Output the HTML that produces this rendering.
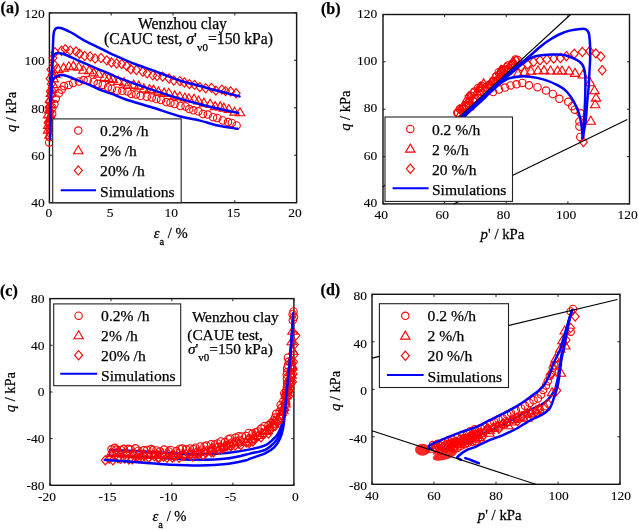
<!DOCTYPE html><html><head><meta charset="utf-8"><style>html,body{margin:0;padding:0;background:#fff;}svg{display:block;} text{stroke:#000;stroke-width:0.25px;} text.tl{stroke-width:0.1px;}</style></head><body><svg width="638" height="530" viewBox="0 0 638 530">
<rect width="638" height="530" fill="#fff"/>
<g font-family="Liberation Serif, Times New Roman, serif" fill="#000"><rect x="49.4" y="12.9" width="247.2" height="189.8" fill="none" stroke="#111" stroke-width="1.4"/><path d="M49.4 202.7v-2.6M49.4 12.9v2.6M111.2 202.7v-2.6M111.2 12.9v2.6M173 202.7v-2.6M173 12.9v2.6M234.8 202.7v-2.6M234.8 12.9v2.6M296.6 202.7v-2.6M296.6 12.9v2.6M49.4 202.7h2.6M296.6 202.7h-2.6M49.4 155.2h2.6M296.6 155.2h-2.6M49.4 107.8h2.6M296.6 107.8h-2.6M49.4 60.3h2.6M296.6 60.3h-2.6M49.4 12.9h2.6M296.6 12.9h-2.6" stroke="#222" stroke-width="1" fill="none"/><rect x="383" y="14.5" width="246.5" height="189.4" fill="none" stroke="#111" stroke-width="1.4"/><path d="M383 203.9v-2.6M383 14.5v2.6M444.6 203.9v-2.6M444.6 14.5v2.6M506.2 203.9v-2.6M506.2 14.5v2.6M567.9 203.9v-2.6M567.9 14.5v2.6M629.5 203.9v-2.6M629.5 14.5v2.6M383 203.9h2.6M629.5 203.9h-2.6M383 156.6h2.6M629.5 156.6h-2.6M383 109.2h2.6M629.5 109.2h-2.6M383 61.8h2.6M629.5 61.8h-2.6M383 14.5h2.6M629.5 14.5h-2.6" stroke="#222" stroke-width="1" fill="none"/><rect x="50" y="298.6" width="243.9" height="186.7" fill="none" stroke="#111" stroke-width="1.4"/><path d="M50 485.3v-2.6M50 298.6v2.6M111 485.3v-2.6M111 298.6v2.6M171.9 485.3v-2.6M171.9 298.6v2.6M232.9 485.3v-2.6M232.9 298.6v2.6M293.9 485.3v-2.6M293.9 298.6v2.6M50 485.3h2.6M293.9 485.3h-2.6M50 438.6h2.6M293.9 438.6h-2.6M50 392h2.6M293.9 392h-2.6M50 345.3h2.6M293.9 345.3h-2.6M50 298.6h2.6M293.9 298.6h-2.6" stroke="#222" stroke-width="1" fill="none"/><rect x="372" y="294.3" width="248" height="190" fill="none" stroke="#111" stroke-width="1.4"/><path d="M372 484.3v-2.6M372 294.3v2.6M434 484.3v-2.6M434 294.3v2.6M496 484.3v-2.6M496 294.3v2.6M558 484.3v-2.6M558 294.3v2.6M620 484.3v-2.6M620 294.3v2.6M372 484.3h2.6M620 484.3h-2.6M372 436.8h2.6M620 436.8h-2.6M372 389.3h2.6M620 389.3h-2.6M372 341.8h2.6M620 341.8h-2.6M372 294.3h2.6M620 294.3h-2.6" stroke="#222" stroke-width="1" fill="none"/><text x="48.8" y="217.3" font-size="13.5" text-anchor="middle" class="tl">0</text><text x="110" y="217.3" font-size="13.5" text-anchor="middle" class="tl">5</text><text x="171.2" y="217.3" font-size="13.5" text-anchor="middle" class="tl">10</text><text x="233.4" y="217.3" font-size="13.5" text-anchor="middle" class="tl">15</text><text x="295.1" y="217.3" font-size="13.5" text-anchor="middle" class="tl">20</text><text x="44.8" y="207.4" font-size="13.5" text-anchor="end" class="tl">40</text><text x="44.8" y="159.9" font-size="13.5" text-anchor="end" class="tl">60</text><text x="44.8" y="112.5" font-size="13.5" text-anchor="end" class="tl">80</text><text x="44.8" y="65" font-size="13.5" text-anchor="end" class="tl">100</text><text x="44.8" y="17.6" font-size="13.5" text-anchor="end" class="tl">120</text><text x="381.3" y="219.2" font-size="13.5" text-anchor="middle" class="tl">40</text><text x="442.3" y="219.2" font-size="13.5" text-anchor="middle" class="tl">60</text><text x="503.6" y="219.2" font-size="13.5" text-anchor="middle" class="tl">80</text><text x="566" y="219.2" font-size="13.5" text-anchor="middle" class="tl">100</text><text x="627.5" y="219.2" font-size="13.5" text-anchor="middle" class="tl">120</text><text x="377.3" y="206.9" font-size="13.5" text-anchor="end" class="tl">40</text><text x="377.3" y="159.6" font-size="13.5" text-anchor="end" class="tl">60</text><text x="377.3" y="112.2" font-size="13.5" text-anchor="end" class="tl">80</text><text x="377.3" y="64.8" font-size="13.5" text-anchor="end" class="tl">100</text><text x="377.3" y="17.5" font-size="13.5" text-anchor="end" class="tl">120</text><text x="47" y="500.9" font-size="13.5" text-anchor="middle" class="tl">-20</text><text x="107.5" y="500.9" font-size="13.5" text-anchor="middle" class="tl">-15</text><text x="168.4" y="500.9" font-size="13.5" text-anchor="middle" class="tl">-10</text><text x="230.7" y="500.9" font-size="13.5" text-anchor="middle" class="tl">-5</text><text x="295.3" y="500.9" font-size="13.5" text-anchor="middle" class="tl">0</text><text x="44.4" y="489.7" font-size="13.5" text-anchor="end" class="tl">-80</text><text x="44.4" y="443" font-size="13.5" text-anchor="end" class="tl">-40</text><text x="44.4" y="396.4" font-size="13.5" text-anchor="end" class="tl">0</text><text x="44.4" y="349.7" font-size="13.5" text-anchor="end" class="tl">40</text><text x="44.4" y="303" font-size="13.5" text-anchor="end" class="tl">80</text><text x="372" y="500.1" font-size="13.5" text-anchor="middle" class="tl">40</text><text x="434" y="500.1" font-size="13.5" text-anchor="middle" class="tl">60</text><text x="496" y="500.1" font-size="13.5" text-anchor="middle" class="tl">80</text><text x="558.6" y="500.1" font-size="13.5" text-anchor="middle" class="tl">100</text><text x="620.8" y="500.1" font-size="13.5" text-anchor="middle" class="tl">120</text><text x="367" y="490.1" font-size="13.5" text-anchor="end" class="tl">-80</text><text x="367" y="442.6" font-size="13.5" text-anchor="end" class="tl">-40</text><text x="367" y="395.1" font-size="13.5" text-anchor="end" class="tl">0</text><text x="367" y="347.6" font-size="13.5" text-anchor="end" class="tl">40</text><text x="367" y="300.1" font-size="13.5" text-anchor="end" class="tl">80</text><text transform="translate(15.6 132) rotate(-90) scale(0.94 1)" font-size="15.4"><tspan font-style="italic">q</tspan> / kPa</text><text transform="translate(349.6 130.8) rotate(-90) scale(0.94 1)" font-size="15.4"><tspan font-style="italic">q</tspan> / kPa</text><text transform="translate(14.7 412.2) rotate(-90) scale(0.94 1)" font-size="15.4"><tspan font-style="italic">q</tspan> / kPa</text><text transform="translate(340.3 411.1) rotate(-90) scale(0.94 1)" font-size="15.4"><tspan font-style="italic">q</tspan> / kPa</text><text transform="translate(153.8 238.2) scale(0.95 1)" font-size="15.4"><tspan font-style="italic">&#949;</tspan><tspan font-size="11" dy="7.2">a</tspan><tspan dy="-7.2"> / %</tspan></text><text transform="translate(152.6 520.7) scale(0.95 1)" font-size="15.4"><tspan font-style="italic">&#949;</tspan><tspan font-size="11" dy="7.2">a</tspan><tspan dy="-7.2"> / %</tspan></text><text transform="translate(480.6 239.2) scale(0.962 1)" font-size="15.4"><tspan font-style="italic">p</tspan>' / kPa</text><text transform="translate(477.8 520.1) scale(0.962 1)" font-size="15.4"><tspan font-style="italic">p</tspan>' / kPa</text><text x="0.6" y="13.4" font-size="16.0" font-weight="bold">(a)</text><text x="321" y="13.8" font-size="16.0" font-weight="bold">(b)</text><text x="0" y="295.7" font-size="16.0" font-weight="bold">(c)</text><text x="320.6" y="294.7" font-size="16.0" font-weight="bold">(d)</text></g>
<defs><clipPath id="ca"><rect x="49.4" y="12.9" width="247.2" height="189.8"/></clipPath><clipPath id="cb"><rect x="383" y="14.5" width="246.5" height="189.4"/></clipPath><clipPath id="cc"><rect x="50" y="298.6" width="243.9" height="186.7"/></clipPath><clipPath id="cd"><rect x="372" y="294.3" width="248" height="190"/></clipPath></defs><g fill="none" stroke="#ff0000" stroke-width="1.1"><circle cx="49.2" cy="142.4" r="3.7"/><circle cx="49.8" cy="137.2" r="3.7"/><circle cx="49.9" cy="132.8" r="3.7"/><circle cx="49.5" cy="128" r="3.7"/><circle cx="50" cy="122.9" r="3.7"/><circle cx="50.8" cy="117.4" r="3.7"/><circle cx="52.2" cy="113.8" r="3.7"/><circle cx="52.4" cy="107.7" r="3.7"/><circle cx="54.4" cy="104.1" r="3.7"/><circle cx="55.8" cy="98.4" r="3.7"/><circle cx="58.8" cy="93.3" r="3.7"/><circle cx="61.6" cy="89.8" r="3.7"/><circle cx="64" cy="86.1" r="3.7"/><circle cx="68.6" cy="84.9" r="3.7"/><circle cx="73.2" cy="83" r="3.7"/><circle cx="78.9" cy="81.5" r="3.7"/><circle cx="83.6" cy="80.1" r="3.7"/><circle cx="87.7" cy="80.2" r="3.7"/><circle cx="93.7" cy="81.9" r="3.7"/><circle cx="97.7" cy="83.8" r="3.7"/><circle cx="102.7" cy="84.9" r="3.7"/><circle cx="108" cy="87.3" r="3.7"/><circle cx="111.8" cy="88.7" r="3.7"/><circle cx="117.1" cy="90.7" r="3.7"/><circle cx="122.3" cy="90.8" r="3.7"/><circle cx="127.6" cy="91.6" r="3.7"/><circle cx="131.5" cy="93.9" r="3.7"/><circle cx="135.9" cy="94.4" r="3.7"/><circle cx="140.6" cy="95.8" r="3.7"/><circle cx="146.8" cy="96.7" r="3.7"/><circle cx="151.8" cy="97.4" r="3.7"/><circle cx="156.4" cy="99.1" r="3.7"/><circle cx="161" cy="100" r="3.7"/><circle cx="166.3" cy="102.1" r="3.7"/><circle cx="170.5" cy="102.8" r="3.7"/><circle cx="174.6" cy="104.1" r="3.7"/><circle cx="180.5" cy="106" r="3.7"/><circle cx="185.5" cy="106.4" r="3.7"/><circle cx="189.3" cy="109.1" r="3.7"/><circle cx="193.4" cy="110.3" r="3.7"/><circle cx="198.4" cy="111.3" r="3.7"/><circle cx="202.9" cy="114" r="3.7"/><circle cx="207.8" cy="114.6" r="3.7"/><circle cx="213.1" cy="117.2" r="3.7"/><circle cx="217.2" cy="118" r="3.7"/><circle cx="222.8" cy="120.5" r="3.7"/><circle cx="228" cy="122.1" r="3.7"/><circle cx="231.8" cy="122.9" r="3.7"/><circle cx="236.6" cy="125.5" r="3.7"/><path d="M49.4 130.2L54.1 138.2L44.7 138.2Z"/><path d="M48 125.1L52.7 133.1L43.3 133.1Z"/><path d="M48.1 120.4L52.8 128.4L43.4 128.4Z"/><path d="M49 114.8L53.7 122.8L44.3 122.8Z"/><path d="M48.1 109.9L52.8 117.9L43.4 117.9Z"/><path d="M49 104.9L53.7 112.9L44.3 112.9Z"/><path d="M50.4 100L55.1 108L45.7 108Z"/><path d="M50 94.7L54.7 102.6L45.3 102.6Z"/><path d="M50.9 88.5L55.6 96.5L46.2 96.5Z"/><path d="M52.2 84.7L56.9 92.6L47.5 92.6Z"/><path d="M53.1 79.6L57.8 87.6L48.4 87.6Z"/><path d="M53.7 73.9L58.4 81.9L49 81.9Z"/><path d="M55.3 69.5L60 77.5L50.6 77.5Z"/><path d="M58.4 64.6L63.1 72.6L53.7 72.6Z"/><path d="M63.6 63.2L68.3 71.1L58.9 71.1Z"/><path d="M68.9 61.8L73.6 69.8L64.2 69.8Z"/><path d="M73.4 61.2L78.1 69.2L68.7 69.2Z"/><path d="M78.7 62.3L83.4 70.3L74 70.3Z"/><path d="M83.4 65.2L88.1 73.2L78.7 73.2Z"/><path d="M89.3 65.7L94 73.7L84.6 73.7Z"/><path d="M93.5 67.9L98.2 75.9L88.8 75.9Z"/><path d="M98.6 69.3L103.3 77.3L93.9 77.3Z"/><path d="M104.4 72.6L109.1 80.6L99.7 80.6Z"/><path d="M108.6 73.4L113.3 81.4L103.9 81.4Z"/><path d="M112.8 74.4L117.5 82.4L108.1 82.4Z"/><path d="M118.2 76.4L122.9 84.4L113.5 84.4Z"/><path d="M124.1 77.7L128.8 85.7L119.4 85.7Z"/><path d="M127.7 80.4L132.4 88.4L123 88.4Z"/><path d="M133.6 80.1L138.3 88.1L128.9 88.1Z"/><path d="M138.7 81.1L143.4 89.1L134 89.1Z"/><path d="M143.8 83.9L148.5 91.9L139.1 91.9Z"/><path d="M149.5 84.5L154.2 92.5L144.8 92.5Z"/><path d="M153.5 85.1L158.2 93L148.8 93Z"/><path d="M158.4 86.9L163.1 94.9L153.7 94.9Z"/><path d="M164.1 88.1L168.8 96.1L159.4 96.1Z"/><path d="M168.8 88.3L173.5 96.3L164.1 96.3Z"/><path d="M174.7 90.9L179.4 98.9L170 98.9Z"/><path d="M179.8 91.8L184.5 99.8L175.1 99.8Z"/><path d="M184.8 93L189.5 100.9L180.1 100.9Z"/><path d="M188.8 93.8L193.5 101.8L184.1 101.8Z"/><path d="M194.1 94.2L198.8 102.2L189.4 102.2Z"/><path d="M198.5 96L203.2 104L193.8 104Z"/><path d="M203.9 98.2L208.6 106.2L199.2 106.2Z"/><path d="M210.2 99.2L214.9 107.2L205.5 107.2Z"/><path d="M215.1 101.6L219.8 109.6L210.4 109.6Z"/><path d="M220.2 101.9L224.9 109.9L215.5 109.9Z"/><path d="M223.8 103.1L228.5 111.1L219.1 111.1Z"/><path d="M228.8 104.5L233.5 112.5L224.1 112.5Z"/><path d="M234.6 107.2L239.3 115.1L229.9 115.1Z"/><path d="M240 107.8L244.7 115.8L235.3 115.8Z"/><path d="M49.7 124.1L53.7 128.7L49.7 133.3L45.7 128.7Z"/><path d="M48.4 118.4L52.4 123L48.4 127.6L44.4 123Z"/><path d="M50.4 113.3L54.4 117.9L50.4 122.5L46.4 117.9Z"/><path d="M50.1 107.1L54.1 111.7L50.1 116.3L46.1 111.7Z"/><path d="M49 102.5L53 107.1L49 111.7L45 107.1Z"/><path d="M49.6 97.1L53.6 101.7L49.6 106.3L45.6 101.7Z"/><path d="M51.4 90.8L55.4 95.4L51.4 100L47.4 95.4Z"/><path d="M50.3 86.7L54.3 91.3L50.3 95.9L46.3 91.3Z"/><path d="M51.3 79.4L55.3 84L51.3 88.6L47.3 84Z"/><path d="M50.1 74L54.1 78.6L50.1 83.2L46.1 78.6Z"/><path d="M52.3 70.2L56.3 74.8L52.3 79.4L48.3 74.8Z"/><path d="M50.9 64.8L54.9 69.4L50.9 74L46.9 69.4Z"/><path d="M53.4 59.1L57.4 63.7L53.4 68.3L49.4 63.7Z"/><path d="M52.9 53.5L56.9 58.1L52.9 62.7L48.9 58.1Z"/><path d="M55 47.6L59 52.2L55 56.8L51 52.2Z"/><path d="M61.5 46.2L65.5 50.8L61.5 55.4L57.5 50.8Z"/><path d="M65.3 44.6L69.3 49.2L65.3 53.8L61.3 49.2Z"/><path d="M70.2 46L74.2 50.6L70.2 55.2L66.2 50.6Z"/><path d="M76 46.8L80 51.4L76 56L72 51.4Z"/><path d="M79.5 49.2L83.5 53.8L79.5 58.4L75.5 53.8Z"/><path d="M84.7 51.4L88.7 56L84.7 60.6L80.7 56Z"/><path d="M90.1 51.9L94.1 56.5L90.1 61.1L86.1 56.5Z"/><path d="M95.1 53.9L99.1 58.5L95.1 63.1L91.1 58.5Z"/><path d="M101 53.4L105 58L101 62.6L97 58Z"/><path d="M106.8 55.8L110.8 60.4L106.8 65L102.8 60.4Z"/><path d="M111.4 57.9L115.4 62.5L111.4 67.1L107.4 62.5Z"/><path d="M116.6 58.9L120.6 63.5L116.6 68.1L112.6 63.5Z"/><path d="M121.7 59.5L125.7 64.1L121.7 68.7L117.7 64.1Z"/><path d="M126.7 61.5L130.7 66.1L126.7 70.7L122.7 66.1Z"/><path d="M130.8 64.6L134.8 69.2L130.8 73.8L126.8 69.2Z"/><path d="M136.4 65.4L140.4 70L136.4 74.6L132.4 70Z"/><path d="M142.8 67.2L146.8 71.8L142.8 76.4L138.8 71.8Z"/><path d="M147.1 68.7L151.1 73.3L147.1 77.9L143.1 73.3Z"/><path d="M152.8 70.7L156.8 75.3L152.8 79.9L148.8 75.3Z"/><path d="M157 71.5L161 76.1L157 80.7L153 76.1Z"/><path d="M162.6 72L166.6 76.6L162.6 81.2L158.6 76.6Z"/><path d="M169.1 73.9L173.1 78.5L169.1 83.1L165.1 78.5Z"/><path d="M173.8 75.9L177.8 80.5L173.8 85.1L169.8 80.5Z"/><path d="M179.9 76.5L183.9 81.1L179.9 85.7L175.9 81.1Z"/><path d="M184.4 77.9L188.4 82.5L184.4 87.1L180.4 82.5Z"/><path d="M189.4 79.5L193.4 84.1L189.4 88.7L185.4 84.1Z"/><path d="M194.6 80.3L198.6 84.9L194.6 89.5L190.6 84.9Z"/><path d="M199.9 82.5L203.9 87.1L199.9 91.7L195.9 87.1Z"/><path d="M205.7 83.6L209.7 88.2L205.7 92.8L201.7 88.2Z"/><path d="M211.5 83.3L215.5 87.9L211.5 92.5L207.5 87.9Z"/><path d="M215.9 86L219.9 90.6L215.9 95.2L211.9 90.6Z"/><path d="M221.9 85L225.9 89.6L221.9 94.2L217.9 89.6Z"/><path d="M225.5 86.5L229.5 91.1L225.5 95.7L221.5 91.1Z"/><path d="M230.7 86.8L234.7 91.4L230.7 96L226.7 91.4Z"/><path d="M236.1 88.6L240.1 93.2L236.1 97.8L232.1 93.2Z"/></g><g fill="none" stroke="#0000ff" stroke-width="2.5" stroke-linejoin="round" stroke-linecap="round" clip-path="url(#ca)"><path d="M49.6 139 C49.7 134.2 50 119.8 50.3 110 C50.6 100.2 51.1 90 51.5 80 C51.9 70 52.4 57.7 52.8 50 C53.1 42.3 53.2 37.5 53.6 34 C54 30.5 54.5 30.2 55.2 29.2 C55.9 28.2 56.7 27.9 57.9 27.8 C59.1 27.7 60.1 27.7 62.3 28.5 C64.5 29.3 67.5 30.6 71.1 32.5 C74.6 34.4 79.4 37.8 83.6 40.1 C87.8 42.4 92 44.2 96.2 46.3 C100.4 48.4 104.5 50.6 108.7 52.6 C112.9 54.6 116.8 56.3 121.2 58.2 C125.6 60.1 130.2 62.1 135 64 C139.8 65.9 145.2 67.6 150.2 69.4 C155.2 71.2 160 73.1 165 75 C170 76.9 174.6 79 180.4 80.8 C186.2 82.6 194 84.4 200 86 C206 87.6 209.8 88.8 216.4 90.5 C223 92.2 235.7 95.4 239.5 96.4"/><path d="M49.6 139 C49.7 135 50 123.2 50.3 115 C50.6 106.8 50.9 98.3 51.3 90 C51.6 81.7 52 70.7 52.4 65 C52.8 59.3 52.9 57.9 53.4 56 C53.9 54.1 54.5 54.1 55.4 53.6 C56.2 53.1 56.9 52.8 58.5 52.9 C60.1 53 61.7 53.3 64.8 54.5 C67.9 55.7 72.1 57.8 77.3 60.1 C82.5 62.4 91 66.1 96.2 68.3 C101.4 70.5 104.7 71.6 108.7 73.3 C112.7 75 113.1 75.8 120 78.4 C126.9 81 140.1 85.7 150.2 89.1 C160.3 92.5 172.1 96.4 180.4 98.9 C188.7 101.4 194 102.6 200 104.2 C206 105.8 210 106.8 216.4 108.3 C222.8 109.8 234.6 112.1 238.2 112.9"/><path d="M49.6 139 C49.7 135.8 50 127.3 50.3 120 C50.5 112.7 50.8 101.3 51.1 95 C51.4 88.7 51.4 84.9 52 82 C52.6 79.1 53.5 78.7 54.8 77.6 C56.1 76.5 57.9 75.5 59.8 75.2 C61.7 74.9 63.2 74.9 66.1 75.7 C69 76.5 73.3 78.5 77.3 80.1 C81.3 81.7 85.7 83.3 89.9 85.1 C94.1 86.9 98.2 89 102.4 90.7 C106.6 92.4 111.1 93.6 115 95.1 C118.9 96.6 120.1 97.5 126 99.5 C131.9 101.5 141.1 104 150.2 106.8 C159.3 109.6 172.1 114.2 180.4 116.5 C188.7 118.8 194 119.1 200 120.6 C206 122 210.1 123.8 216.4 125.2 C222.7 126.6 234.1 128.2 237.6 128.8"/></g><g fill="none" stroke="#ff0000" stroke-width="1.1"><circle cx="457.3" cy="112.8" r="3.7"/><circle cx="458" cy="112.8" r="3.7"/><path d="M460.7 108.6L465.4 116.6L456 116.6Z"/><path d="M459.6 104.6L463.6 109.2L459.6 113.8L455.6 109.2Z"/><circle cx="459.9" cy="108.9" r="3.7"/><circle cx="462.2" cy="109.1" r="3.7"/><path d="M462.5 102.1L467.2 110.1L457.8 110.1Z"/><path d="M464 103L468 107.6L464 112.2L460 107.6Z"/><circle cx="465.5" cy="106.6" r="3.7"/><circle cx="466.2" cy="106" r="3.7"/><path d="M468.9 101.7L473.6 109.7L464.2 109.7Z"/><path d="M467.9 98.6L471.9 103.2L467.9 107.8L463.9 103.2Z"/><circle cx="468.8" cy="103.2" r="3.7"/><circle cx="469.4" cy="100.8" r="3.7"/><path d="M467.5 93.7L472.2 101.6L462.8 101.6Z"/><path d="M469 91.5L473 96.1L469 100.7L465 96.1Z"/><circle cx="472.9" cy="99.7" r="3.7"/><circle cx="471.2" cy="96" r="3.7"/><path d="M475.7 94.3L480.4 102.3L471 102.3Z"/><path d="M472.8 88.5L476.8 93.1L472.8 97.7L468.8 93.1Z"/><circle cx="477.5" cy="95.5" r="3.7"/><circle cx="474.5" cy="91.6" r="3.7"/><path d="M477 87.3L481.7 95.3L472.3 95.3Z"/><path d="M480.7 90L484.7 94.6L480.7 99.2L476.7 94.6Z"/><circle cx="480.4" cy="91.1" r="3.7"/><circle cx="478.2" cy="87.9" r="3.7"/><path d="M480.4 83.1L485.1 91.1L475.7 91.1Z"/><path d="M480.6 82L484.6 86.6L480.6 91.2L476.6 86.6Z"/><circle cx="481.5" cy="85.7" r="3.7"/><circle cx="485.5" cy="87.3" r="3.7"/><path d="M483.6 78.9L488.3 86.9L478.9 86.9Z"/><path d="M488.3 82.2L492.3 86.8L488.3 91.4L484.3 86.8Z"/><circle cx="489" cy="85.1" r="3.7"/><circle cx="490" cy="85" r="3.7"/><path d="M490.7 79.7L495.4 87.7L486 87.7Z"/><path d="M491.4 77.7L495.4 82.3L491.4 86.9L487.4 82.3Z"/><circle cx="493" cy="81.1" r="3.7"/><circle cx="494.2" cy="81" r="3.7"/><path d="M495.8 76.9L500.5 84.9L491.1 84.9Z"/><path d="M496.7 75.7L500.7 80.3L496.7 84.9L492.7 80.3Z"/><circle cx="495.9" cy="76.5" r="3.7"/><circle cx="496.7" cy="76.5" r="3.7"/><path d="M500 72.4L504.7 80.4L495.3 80.4Z"/><path d="M499.6 69.8L503.6 74.4L499.6 79L495.6 74.4Z"/><circle cx="498.7" cy="72.2" r="3.7"/><circle cx="500.9" cy="72.8" r="3.7"/><path d="M500.5 65.7L505.2 73.7L495.8 73.7Z"/><path d="M501.8 65.4L505.8 70L501.8 74.6L497.8 70Z"/><circle cx="503.9" cy="69.6" r="3.7"/><circle cx="505.6" cy="70" r="3.7"/><path d="M506.9 66L511.6 74L502.2 74Z"/><path d="M506.1 62.7L510.1 67.3L506.1 71.9L502.1 67.3Z"/><circle cx="509" cy="68.2" r="3.7"/><circle cx="507.9" cy="65.4" r="3.7"/><path d="M510.3 60.3L515 68.3L505.6 68.3Z"/><path d="M511.8 60.7L515.8 65.3L511.8 69.9L507.8 65.3Z"/><circle cx="512.3" cy="63.9" r="3.7"/><circle cx="513.2" cy="63.2" r="3.7"/><path d="M513.2 56.8L517.9 64.8L508.5 64.8Z"/><path d="M515.9 56L519.9 60.6L515.9 65.2L511.9 60.6Z"/><circle cx="515.4" cy="59.5" r="3.7"/><circle cx="517.7" cy="59.9" r="3.7"/></g><g fill="none" stroke="#ff0000" stroke-width="1.1"><circle cx="580.3" cy="137" r="3.7"/><circle cx="579.4" cy="126.5" r="3.7"/><circle cx="579.4" cy="121.5" r="3.7"/><circle cx="580.6" cy="113.3" r="3.7"/><circle cx="574.8" cy="109.7" r="3.7"/><circle cx="572.2" cy="106.2" r="3.7"/><circle cx="568.2" cy="101.8" r="3.7"/><circle cx="559.4" cy="98.8" r="3.7"/><circle cx="552.8" cy="94" r="3.7"/><circle cx="546" cy="90.6" r="3.7"/><circle cx="537.5" cy="87.2" r="3.7"/><circle cx="529" cy="85.3" r="3.7"/><circle cx="522.3" cy="82.9" r="3.7"/><circle cx="516.5" cy="84.3" r="3.7"/><circle cx="510.5" cy="85.4" r="3.7"/><circle cx="505" cy="87.6" r="3.7"/><circle cx="499" cy="89.5" r="3.7"/><circle cx="493" cy="92" r="3.7"/><path d="M590.8 116.2L595.5 124.2L586.1 124.2Z"/><path d="M595.2 99.8L599.9 107.8L590.5 107.8Z"/><path d="M596 93.1L600.7 101.1L591.3 101.1Z"/><path d="M594.5 85.8L599.2 93.8L589.8 93.8Z"/><path d="M590 77.8L594.7 85.8L585.3 85.8Z"/><path d="M582.8 70L587.5 78L578.1 78Z"/><path d="M575 68.4L579.7 76.4L570.3 76.4Z"/><path d="M569 66.3L573.7 74.3L564.3 74.3Z"/><path d="M562 66L566.7 74L557.3 74Z"/><path d="M557.5 66L562.2 74L552.8 74Z"/><path d="M550.5 66L555.2 74L545.8 74Z"/><path d="M544 65.6L548.7 73.6L539.3 73.6Z"/><path d="M538 65.8L542.7 73.8L533.3 73.8Z"/><path d="M531 66.3L535.7 74.3L526.3 74.3Z"/><path d="M524.5 67.3L529.2 75.3L519.8 75.3Z"/><path d="M518 68.8L522.7 76.8L513.3 76.8Z"/><path d="M583.4 137.5L587.4 142.1L583.4 146.7L579.4 142.1Z"/><path d="M602.2 65.7L606.2 70.3L602.2 74.9L598.2 70.3Z"/><path d="M600.8 51.9L604.8 56.5L600.8 61.1L596.8 56.5Z"/><path d="M595.8 48.8L599.8 53.4L595.8 58L591.8 53.4Z"/><path d="M589.6 46.6L593.6 51.2L589.6 55.8L585.6 51.2Z"/><path d="M582.3 47.4L586.3 52L582.3 56.6L578.3 52Z"/><path d="M574.3 49.1L578.3 53.7L574.3 58.3L570.3 53.7Z"/><path d="M566.4 51.6L570.4 56.2L566.4 60.8L562.4 56.2Z"/><path d="M560.4 53.4L564.4 58L560.4 62.6L556.4 58Z"/><path d="M553.7 54L557.7 58.6L553.7 63.2L549.7 58.6Z"/><path d="M546.8 54.9L550.8 59.5L546.8 64.1L542.8 59.5Z"/><path d="M540 55.7L544 60.3L540 64.9L536 60.3Z"/><path d="M533.5 57.4L537.5 62L533.5 66.6L529.5 62Z"/><path d="M527.6 59.9L531.6 64.5L527.6 69.1L523.6 64.5Z"/><path d="M521 61.9L525 66.5L521 71.1L517 66.5Z"/></g><line x1="383" y1="187.1" x2="570.6" y2="14.5" stroke="#000" stroke-width="1.1"/><line x1="453.8" y1="203.9" x2="627.3" y2="119.6" stroke="#000" stroke-width="1.1"/><g fill="none" stroke="#0000ff" stroke-width="2.5" stroke-linejoin="round" stroke-linecap="round" clip-path="url(#cb)"><path d="M582.7 138.1 C583 136.8 583.7 133.1 584.2 130 C584.7 126.9 585.3 124.6 585.8 119.6 C586.3 114.6 586.9 105.6 587.4 99.8 C587.9 94 588.5 89.5 588.8 85 C589.1 80.5 589.2 77 589.4 72.8 C589.6 68.6 590 64 590.1 59.6 C590.2 55.2 590.3 50.8 590.1 46.4 C589.9 42 589.6 36.1 588.8 33.2 C588 30.3 586.9 29.9 585.5 29.2 C584.1 28.5 582.9 28.8 580.2 29 C577.6 29.2 573.1 29.7 569.6 30.6 C566.1 31.5 562.4 33 559.1 34.5 C555.8 36 552.9 37.8 549.8 39.8 C546.7 41.8 543.9 43.8 540.6 46.4 C537.3 49 534.3 52.1 530 55.7 C525.7 59.4 520 64 515 68.3 C510 72.6 505 77.1 500 81.6 C495 86.1 490 90.7 485 95.3 C480 99.9 473.8 105.6 470 109.1 C466.2 112.6 463.3 115.3 462 116.5"/><path d="M582.7 138.1 C582.8 136.8 583.3 133.1 583.5 130 C583.7 126.9 583.8 124.6 584.1 119.6 C584.4 114.6 584.9 106.4 585.1 99.8 C585.3 93.2 585.5 84.6 585.4 80 C585.3 75.4 585.1 74.2 584.8 72 C584.5 69.8 584 68.4 583.5 67 C583 65.6 582.7 64.7 581.5 63.5 C580.3 62.3 578.8 60.9 576.2 59.6 C573.6 58.3 569.3 56.3 566 55.5 C562.7 54.7 560.2 54.7 556.4 54.6 C552.6 54.5 547.6 54.4 543.2 55 C538.8 55.6 534.7 55.8 530 58.3 C525.3 60.8 520 65.9 515 70 C510 74.1 505 78.4 500 82.8 C495 87.2 490 91.9 485 96.4 C480 101 473.7 106.8 470 110.1 C466.3 113.4 464.2 115.4 463 116.5"/><path d="M582.7 138.1 C582.5 135.9 582 129.1 581.4 124.9 C580.8 120.7 580.1 117 578.8 113 C577.5 109 575.7 104.8 573.5 101.1 C571.3 97.4 568.7 93.4 565.6 90.6 C562.5 87.8 558.7 85.9 555 84 C551.3 82.1 547.4 80.6 543.2 79.4 C539 78.2 533.9 77.3 530 76.8 C526.1 76.3 523.7 76.1 520 76.4 C516.3 76.7 511.5 77.2 507.7 78.8 C503.9 80.4 500.8 83.1 497 86.2 C493.2 89.3 489.5 93.3 485 97.5 C480.5 101.7 473.5 108 470 111.2 C466.5 114.5 465 116 464 117"/></g><g fill="none" stroke="#0000ff" stroke-width="2.5" stroke-linejoin="round" stroke-linecap="round" clip-path="url(#cc)"><path d="M293.4 313.2 C293.1 317.7 292.1 331.4 291.5 340 C290.9 348.6 290.1 358.3 289.5 365 C288.9 371.7 288.6 375.8 288.1 380 C287.6 384.2 286.9 386.3 286.5 390 C286.1 393.7 285.9 398.1 285.5 402.1 C285.1 406.1 284.6 410.4 284 414.2 C283.4 418 282.7 421.4 281.7 424.7 C280.7 428 279.4 431.3 277.9 433.8 C276.4 436.3 274.7 437.9 272.6 439.8 C270.5 441.7 268.9 443.7 265.1 445.3 C261.3 446.9 256.4 448.1 250 449.4 C243.6 450.7 234.7 452.2 226.4 453 C218.1 453.8 209.4 454.3 200 454.3 C190.6 454.3 180 453.5 170 453 C160 452.5 150 451.8 140 451.3 C130 450.8 115.2 450.2 110.2 450"/><path d="M293.4 313.2 C293.1 317.7 292.1 331.4 291.5 340 C290.9 348.6 290.1 358.3 289.5 365 C288.9 371.7 288.6 374.4 288 380 C287.4 385.6 286.8 393.6 286.2 398.9 C285.6 404.2 285.2 407.4 284.6 412 C284 416.6 283.4 422.3 282.5 426.2 C281.6 430.1 280.8 432.5 279.4 435.3 C278 438.1 276.6 440.4 274.2 442.8 C271.8 445.2 269.1 448.1 265.1 449.9 C261.1 451.7 256.4 452.2 250 453.6 C243.6 455.1 234.7 457.6 226.4 458.6 C218.1 459.6 209.4 459.8 200 459.8 C190.6 459.8 180 459 170 458.5 C160 458 150.1 457.3 140 456.8 C129.9 456.3 114.5 455.6 109.4 455.4"/></g><g fill="none" stroke="#ff0000" stroke-width="1.1"><circle cx="293.5" cy="311.5" r="3.7"/><circle cx="292.6" cy="314.2" r="3.7"/><circle cx="294" cy="317" r="3.7"/><circle cx="292.8" cy="320.2" r="3.7"/><path d="M292.5 326.3L297.2 334.3L287.8 334.3Z"/><path d="M291.8 336.8L296.5 344.8L287.1 344.8Z"/><path d="M293 346.3L297.7 354.3L288.3 354.3Z"/><path d="M291.2 355.3L295.9 363.3L286.5 363.3Z"/><path d="M292.2 360.8L296.9 368.8L287.5 368.8Z"/><path d="M295.8 330.9L299.8 335.5L295.8 340.1L291.8 335.5Z"/><path d="M294.4 340L298.4 344.6L294.4 349.2L290.4 344.6Z"/><path d="M294.2 349.9L298.2 354.5L294.2 359.1L290.2 354.5Z"/><path d="M293.6 357.4L297.6 362L293.6 366.6L289.6 362Z"/><path d="M292.8 364.4L296.8 369L292.8 373.6L288.8 369Z"/><circle cx="287.9" cy="357.7" r="3.7"/><circle cx="288.9" cy="361.6" r="3.7"/><circle cx="288" cy="365.2" r="3.7"/><circle cx="287.2" cy="368.2" r="3.7"/><circle cx="287.2" cy="372.1" r="3.7"/><circle cx="286.7" cy="374.7" r="3.7"/><circle cx="286.9" cy="378.8" r="3.7"/><circle cx="287.1" cy="383.2" r="3.7"/><circle cx="286.9" cy="387" r="3.7"/><circle cx="286.1" cy="391.1" r="3.7"/><circle cx="284.3" cy="393.2" r="3.7"/><circle cx="285" cy="396.2" r="3.7"/><circle cx="283.4" cy="401" r="3.7"/><circle cx="280.6" cy="404.9" r="3.7"/><circle cx="281.5" cy="407.8" r="3.7"/><circle cx="279.6" cy="411.5" r="3.7"/><circle cx="276.2" cy="413.8" r="3.7"/><circle cx="275.1" cy="417.6" r="3.7"/><circle cx="273.7" cy="420.4" r="3.7"/><circle cx="270.7" cy="423.3" r="3.7"/><circle cx="268.5" cy="425.3" r="3.7"/><circle cx="264.5" cy="425.9" r="3.7"/><circle cx="261.2" cy="428.6" r="3.7"/><circle cx="257.9" cy="431.5" r="3.7"/><circle cx="255.7" cy="432.3" r="3.7"/><circle cx="252.5" cy="433.6" r="3.7"/><circle cx="248.7" cy="433" r="3.7"/><circle cx="246.1" cy="436" r="3.7"/><circle cx="241.9" cy="436.5" r="3.7"/><circle cx="238.8" cy="436.2" r="3.7"/><circle cx="235.5" cy="437.6" r="3.7"/><circle cx="230.3" cy="438.5" r="3.7"/><circle cx="228.5" cy="439.2" r="3.7"/><circle cx="225.1" cy="442.1" r="3.7"/><circle cx="220.9" cy="441.5" r="3.7"/><circle cx="217.5" cy="443.5" r="3.7"/><circle cx="214.9" cy="444.5" r="3.7"/><circle cx="211.1" cy="444.2" r="3.7"/><circle cx="206.3" cy="445.6" r="3.7"/><circle cx="204.4" cy="446.5" r="3.7"/><circle cx="200.4" cy="446.4" r="3.7"/><circle cx="195.5" cy="447.7" r="3.7"/><circle cx="193.5" cy="449.2" r="3.7"/><circle cx="190" cy="448.5" r="3.7"/><circle cx="186" cy="449.3" r="3.7"/><circle cx="182.2" cy="448.6" r="3.7"/><circle cx="179.8" cy="449" r="3.7"/><circle cx="176.4" cy="451.1" r="3.7"/><circle cx="170.3" cy="450" r="3.7"/><circle cx="168.8" cy="451.4" r="3.7"/><circle cx="164.2" cy="449.6" r="3.7"/><circle cx="160" cy="451.4" r="3.7"/><circle cx="156.4" cy="450.4" r="3.7"/><circle cx="152.6" cy="450.2" r="3.7"/><circle cx="151.1" cy="449.1" r="3.7"/><circle cx="147.2" cy="450" r="3.7"/><circle cx="143.8" cy="450.3" r="3.7"/><circle cx="138.5" cy="450.7" r="3.7"/><circle cx="135.5" cy="448.3" r="3.7"/><circle cx="130.7" cy="449.4" r="3.7"/><circle cx="128.2" cy="448.8" r="3.7"/><circle cx="123.8" cy="448.8" r="3.7"/><circle cx="120.7" cy="449.9" r="3.7"/><circle cx="116.3" cy="449.6" r="3.7"/><circle cx="114.8" cy="447.8" r="3.7"/><circle cx="111.5" cy="449.3" r="3.7"/><path d="M292 362.3L296.7 370.2L287.3 370.2Z"/><path d="M290.3 366.1L295 374.1L285.6 374.1Z"/><path d="M291.6 370.2L296.3 378.2L286.9 378.2Z"/><path d="M289.5 373.4L294.2 381.3L284.8 381.3Z"/><path d="M288.7 375.9L293.4 383.9L284 383.9Z"/><path d="M287.6 381.5L292.3 389.5L282.9 389.5Z"/><path d="M287.4 385.3L292.1 393.3L282.7 393.3Z"/><path d="M286.5 387.1L291.2 395.1L281.8 395.1Z"/><path d="M286.4 390.4L291.1 398.4L281.7 398.4Z"/><path d="M285.2 395.9L289.9 403.9L280.5 403.9Z"/><path d="M285.6 399L290.3 407L280.9 407Z"/><path d="M283.9 402.7L288.6 410.7L279.2 410.7Z"/><path d="M283.4 405.1L288.1 413.1L278.7 413.1Z"/><path d="M281.4 407.1L286.1 415.1L276.7 415.1Z"/><path d="M279.6 411.3L284.3 419.3L274.9 419.3Z"/><path d="M277.8 414.8L282.5 422.8L273.1 422.8Z"/><path d="M274.4 416.2L279.1 424.2L269.7 424.2Z"/><path d="M273.7 419.1L278.4 427.1L269 427.1Z"/><path d="M269.9 422.1L274.6 430.1L265.2 430.1Z"/><path d="M266.7 425.5L271.4 433.5L262 433.5Z"/><path d="M265.6 426.4L270.3 434.4L260.9 434.4Z"/><path d="M261.8 428.5L266.5 436.5L257.1 436.5Z"/><path d="M258.4 430.5L263.1 438.5L253.7 438.5Z"/><path d="M254.1 431.4L258.8 439.4L249.4 439.4Z"/><path d="M250.9 434.7L255.6 442.7L246.2 442.7Z"/><path d="M248.2 434.2L252.9 442.2L243.5 442.2Z"/><path d="M245.9 437.2L250.6 445.2L241.2 445.2Z"/><path d="M241.2 436L245.9 444L236.5 444Z"/><path d="M237.1 436.8L241.8 444.8L232.4 444.8Z"/><path d="M234 437.7L238.7 445.7L229.3 445.7Z"/><path d="M230.2 439L234.9 446.9L225.5 446.9Z"/><path d="M227.6 441.4L232.3 449.4L222.9 449.4Z"/><path d="M224.5 441.1L229.2 449.1L219.8 449.1Z"/><path d="M220.2 442.4L224.9 450.4L215.5 450.4Z"/><path d="M216.7 442.9L221.4 450.9L212 450.9Z"/><path d="M212.4 443.8L217.1 451.8L207.7 451.8Z"/><path d="M211.3 444.3L216 452.3L206.6 452.3Z"/><path d="M206.6 446.5L211.3 454.5L201.9 454.5Z"/><path d="M204 446.2L208.7 454.2L199.3 454.2Z"/><path d="M198.9 447L203.6 455L194.2 455Z"/><path d="M195.7 448L200.4 456L191 456Z"/><path d="M193.6 449.5L198.3 457.5L188.9 457.5Z"/><path d="M189.8 447.7L194.5 455.7L185.1 455.7Z"/><path d="M184 449.8L188.7 457.8L179.3 457.8Z"/><path d="M182.6 449.4L187.3 457.4L177.9 457.4Z"/><path d="M178.2 448.4L182.9 456.4L173.5 456.4Z"/><path d="M174.1 450.9L178.8 458.9L169.4 458.9Z"/><path d="M171.7 450.8L176.4 458.8L167 458.8Z"/><path d="M168.5 449.3L173.2 457.3L163.8 457.3Z"/><path d="M162.6 449L167.3 457L157.9 457Z"/><path d="M160.1 450.3L164.8 458.3L155.4 458.3Z"/><path d="M157.6 450.4L162.3 458.4L152.9 458.4Z"/><path d="M153.2 450.5L157.9 458.5L148.5 458.5Z"/><path d="M149.1 449.9L153.8 457.9L144.4 457.9Z"/><path d="M144.4 450.4L149.1 458.4L139.7 458.4Z"/><path d="M141.3 450.7L146 458.7L136.6 458.7Z"/><path d="M138.8 449L143.5 457L134.1 457Z"/><path d="M133.9 448.8L138.6 456.8L129.2 456.8Z"/><path d="M131.6 449.9L136.3 457.8L126.9 457.8Z"/><path d="M126.6 448.1L131.3 456.1L121.9 456.1Z"/><path d="M124.1 449.3L128.8 457.3L119.4 457.3Z"/><path d="M120.1 448.2L124.8 456.2L115.4 456.2Z"/><path d="M117.1 447.5L121.8 455.5L112.4 455.5Z"/><path d="M112.7 448.5L117.4 456.5L108 456.5Z"/><path d="M110.8 448.8L115.5 456.8L106.1 456.8Z"/><path d="M293.2 369.3L297.2 373.9L293.2 378.5L289.2 373.9Z"/><path d="M291 372.3L295 376.9L291 381.5L287 376.9Z"/><path d="M292.5 377.1L296.5 381.7L292.5 386.3L288.5 381.7Z"/><path d="M290.2 378.8L294.2 383.4L290.2 388L286.2 383.4Z"/><path d="M289.9 384.1L293.9 388.7L289.9 393.3L285.9 388.7Z"/><path d="M288.9 386.5L292.9 391.1L288.9 395.7L284.9 391.1Z"/><path d="M288.7 391.7L292.7 396.3L288.7 400.9L284.7 396.3Z"/><path d="M286.6 392.9L290.6 397.5L286.6 402.1L282.6 397.5Z"/><path d="M285.9 397.3L289.9 401.9L285.9 406.5L281.9 401.9Z"/><path d="M285.6 400.2L289.6 404.8L285.6 409.4L281.6 404.8Z"/><path d="M284.6 404.9L288.6 409.5L284.6 414.1L280.6 409.5Z"/><path d="M282.5 406.9L286.5 411.5L282.5 416.1L278.5 411.5Z"/><path d="M282.2 410.4L286.2 415L282.2 419.6L278.2 415Z"/><path d="M280.3 413.5L284.3 418.1L280.3 422.7L276.3 418.1Z"/><path d="M277 418L281 422.6L277 427.2L273 422.6Z"/><path d="M275.1 421.4L279.1 426L275.1 430.6L271.1 426Z"/><path d="M273.4 422.2L277.4 426.8L273.4 431.4L269.4 426.8Z"/><path d="M270.1 425.4L274.1 430L270.1 434.6L266.1 430Z"/><path d="M268.4 428.9L272.4 433.5L268.4 438.1L264.4 433.5Z"/><path d="M264 429.4L268 434L264 438.6L260 434Z"/><path d="M261 432.7L265 437.3L261 441.9L257 437.3Z"/><path d="M257.7 432L261.7 436.6L257.7 441.2L253.7 436.6Z"/><path d="M254.1 434.3L258.1 438.9L254.1 443.5L250.1 438.9Z"/><path d="M253 436.9L257 441.5L253 446.1L249 441.5Z"/><path d="M249.2 438.5L253.2 443.1L249.2 447.7L245.2 443.1Z"/><path d="M246.3 437.9L250.3 442.5L246.3 447.1L242.3 442.5Z"/><path d="M240.9 440.5L244.9 445.1L240.9 449.7L236.9 445.1Z"/><path d="M238.9 439.2L242.9 443.8L238.9 448.4L234.9 443.8Z"/><path d="M235.2 440.9L239.2 445.5L235.2 450.1L231.2 445.5Z"/><path d="M230.9 441.7L234.9 446.3L230.9 450.9L226.9 446.3Z"/><path d="M226.9 441.6L230.9 446.2L226.9 450.8L222.9 446.2Z"/><path d="M223.7 443.5L227.7 448.1L223.7 452.7L219.7 448.1Z"/><path d="M222 443.9L226 448.5L222 453.1L218 448.5Z"/><path d="M218.6 445.2L222.6 449.8L218.6 454.4L214.6 449.8Z"/><path d="M213.6 447.7L217.6 452.3L213.6 456.9L209.6 452.3Z"/><path d="M211.3 447.6L215.3 452.2L211.3 456.8L207.3 452.2Z"/><path d="M205.8 448.5L209.8 453.1L205.8 457.7L201.8 453.1Z"/><path d="M203.1 450.5L207.1 455.1L203.1 459.7L199.1 455.1Z"/><path d="M199.1 449.8L203.1 454.4L199.1 459L195.1 454.4Z"/><path d="M197.4 449.5L201.4 454.1L197.4 458.7L193.4 454.1Z"/><path d="M192.5 452L196.5 456.6L192.5 461.2L188.5 456.6Z"/><path d="M189.9 450.3L193.9 454.9L189.9 459.5L185.9 454.9Z"/><path d="M184.4 450.7L188.4 455.3L184.4 459.9L180.4 455.3Z"/><path d="M183.1 451.4L187.1 456L183.1 460.6L179.1 456Z"/><path d="M179.1 453.3L183.1 457.9L179.1 462.5L175.1 457.9Z"/><path d="M174.4 451.8L178.4 456.4L174.4 461L170.4 456.4Z"/><path d="M172.4 452.9L176.4 457.5L172.4 462.1L168.4 457.5Z"/><path d="M167 453.2L171 457.8L167 462.4L163 457.8Z"/><path d="M163.5 452.1L167.5 456.7L163.5 461.3L159.5 456.7Z"/><path d="M159.1 453.4L163.1 458L159.1 462.6L155.1 458Z"/><path d="M157.9 453.2L161.9 457.8L157.9 462.4L153.9 457.8Z"/><path d="M154.4 451.7L158.4 456.3L154.4 460.9L150.4 456.3Z"/><path d="M148.9 453.1L152.9 457.7L148.9 462.3L144.9 457.7Z"/><path d="M147.2 454.5L151.2 459.1L147.2 463.7L143.2 459.1Z"/><path d="M142.1 452.8L146.1 457.4L142.1 462L138.1 457.4Z"/><path d="M138.7 453.6L142.7 458.2L138.7 462.8L134.7 458.2Z"/><path d="M136.4 453L140.4 457.6L136.4 462.2L132.4 457.6Z"/><path d="M132.4 454.7L136.4 459.3L132.4 463.9L128.4 459.3Z"/><path d="M128.9 454.9L132.9 459.5L128.9 464.1L124.9 459.5Z"/><path d="M124.7 454L128.7 458.6L124.7 463.2L120.7 458.6Z"/><path d="M120.4 454.3L124.4 458.9L120.4 463.5L116.4 458.9Z"/><path d="M118 453.7L122 458.3L118 462.9L114 458.3Z"/><path d="M112.9 455.7L116.9 460.3L112.9 464.9L108.9 460.3Z"/><path d="M109.4 454.1L113.4 458.7L109.4 463.3L105.4 458.7Z"/><path d="M105.3 455.6L109.3 460.2L105.3 464.8L101.3 460.2Z"/></g><g fill="none" stroke="#0000ff" stroke-width="2.5" stroke-linejoin="round" stroke-linecap="round" clip-path="url(#cc)"><path d="M293.4 313.2 C293.1 317.7 292.1 331.4 291.5 340 C290.9 348.6 290.1 358.3 289.5 365 C288.9 371.7 288.6 374.4 288 380 C287.4 385.6 286.5 393.2 286 398.9 C285.5 404.6 285.3 409.2 284.8 414 C284.3 418.8 284 423.6 283.2 427.7 C282.4 431.8 281.7 435 280.2 438.3 C278.7 441.6 276.7 444.9 274.2 447.4 C271.7 449.9 269.1 451.5 265.1 453.4 C261.1 455.3 253.2 457.5 250 458.7 C246.8 459.9 250.1 459.4 246.2 460.3 C242.3 461.2 234.1 463.2 226.4 464.1 C218.7 465 209.3 465.5 200 465.6 C190.7 465.7 179.3 465.2 170.5 464.8 C161.7 464.4 154.6 463.5 147 462.9 C139.4 462.3 132.1 461.8 125 461.3 C118 460.8 108.1 460.2 104.7 460"/></g><ellipse cx="422.5" cy="449.7" rx="7.5" ry="6" transform="rotate(0 422.5 449.7)" fill="#ff0000" opacity="0.85"/><ellipse cx="445" cy="455" rx="12.5" ry="4.8" transform="rotate(-16 445 455)" fill="#ff0000" opacity="0.85"/><g fill="none" stroke="#0000ff" stroke-width="2.5" stroke-linejoin="round" stroke-linecap="round" clip-path="url(#cd)"><path d="M572 310.2 C571.4 312.2 569.6 317.9 568.5 322 C567.4 326.1 566.4 330.7 565.5 335 C564.6 339.3 563.8 343.8 563 348 C562.2 352.2 561.4 354.7 560.5 360 C559.6 365.3 558.5 374.7 557.5 379.8 C556.5 384.9 556.1 387.1 554.5 390.4 C552.9 393.7 550.2 397.2 548 399.6 C545.8 402 545 402.6 541.5 404.5 C538 406.4 531.2 409.3 527.2 411.3 C523.2 413.3 521.6 414.4 517.7 416.5 C513.8 418.6 508.3 421.8 503.6 424.2 C498.9 426.6 493.9 428.9 489.4 430.8 C484.9 432.7 480.6 434.2 476.6 435.5 C472.6 436.8 468.9 437.1 465.3 438.3 C461.7 439.6 458.2 441.3 455 443 C451.8 444.7 447.5 447.6 446 448.5"/></g><g fill="none" stroke="#ff0000" stroke-width="1.1"><circle cx="573" cy="309" r="3.7"/><circle cx="570.7" cy="311.5" r="3.7"/><circle cx="570.7" cy="331.7" r="3.7"/><circle cx="554.2" cy="365.3" r="3.7"/><circle cx="552.8" cy="367.7" r="3.7"/><circle cx="552.2" cy="372.5" r="3.7"/><circle cx="549.8" cy="376" r="3.7"/><circle cx="547.7" cy="381.2" r="3.7"/><circle cx="546" cy="385.4" r="3.7"/><circle cx="543.1" cy="389.9" r="3.7"/><circle cx="541.1" cy="394.5" r="3.7"/><circle cx="537.9" cy="398.4" r="3.7"/><circle cx="533.6" cy="400.2" r="3.7"/><circle cx="529.6" cy="403" r="3.7"/><circle cx="525" cy="405.8" r="3.7"/><circle cx="521.1" cy="408.4" r="3.7"/><circle cx="515.8" cy="410.3" r="3.7"/><circle cx="511" cy="413" r="3.7"/><circle cx="507.3" cy="414.8" r="3.7"/><circle cx="502.8" cy="418.4" r="3.7"/><circle cx="498.4" cy="419.3" r="3.7"/><circle cx="494.3" cy="421.9" r="3.7"/><circle cx="490.1" cy="423.5" r="3.7"/><circle cx="484.8" cy="426.6" r="3.7"/><circle cx="480.6" cy="428.3" r="3.7"/><circle cx="474.8" cy="429.3" r="3.7"/><circle cx="470.4" cy="431.2" r="3.7"/><circle cx="467" cy="433.7" r="3.7"/><circle cx="462.4" cy="435.4" r="3.7"/><circle cx="457.6" cy="437.3" r="3.7"/><circle cx="452.1" cy="439.5" r="3.7"/><circle cx="448.3" cy="440.3" r="3.7"/><circle cx="443.1" cy="442.6" r="3.7"/><circle cx="437.8" cy="443.8" r="3.7"/><circle cx="432.9" cy="445.1" r="3.7"/><path d="M575.2 312L579.2 316.6L575.2 321.2L571.2 316.6Z"/><path d="M570.7 323.3L574.7 327.9L570.7 332.5L566.7 327.9Z"/><path d="M566 335.4L570 340L566 344.6L562 340Z"/><path d="M557.9 360.3L561.9 364.9L557.9 369.5L553.9 364.9Z"/><path d="M551.1 369.3L555.1 373.9L551.1 378.5L547.1 373.9Z"/><path d="M556.8 385.8L560.8 390.4L556.8 395L552.8 390.4Z"/><path d="M548 399.4L552 404L548 408.6L544 404Z"/><path d="M536.6 409L540.6 413.6L536.6 418.2L532.6 413.6Z"/><path d="M517.7 416.5L521.7 421.1L517.7 425.7L513.7 421.1Z"/><path d="M498.9 424.1L502.9 428.7L498.9 433.3L494.9 428.7Z"/><path d="M482.8 431.6L486.8 436.2L482.8 440.8L478.8 436.2Z"/><path d="M564.7 326L569.4 334L560 334Z"/><path d="M562.4 335.8L567.1 343.8L557.7 343.8Z"/><path d="M565.4 341L570.1 349L560.7 349Z"/><path d="M560.2 344.1L564.9 352.1L555.5 352.1Z"/><path d="M555.6 353.9L560.3 361.9L550.9 361.9Z"/><path d="M560.9 368.2L565.6 376.2L556.2 376.2Z"/><path d="M552 387.8L556.7 395.8L547.3 395.8Z"/><path d="M545 401.8L549.7 409.8L540.3 409.8Z"/><path d="M527.2 413.2L531.9 421.2L522.5 421.2Z"/><path d="M508.3 420.7L513 428.7L503.6 428.7Z"/><path d="M489.4 428.3L494.1 436.3L484.7 436.3Z"/><path d="M476 434.3L480.7 442.3L471.3 442.3Z"/><circle cx="475.6" cy="441.2" r="3.7"/><circle cx="472.4" cy="441.7" r="3.7"/><circle cx="467.6" cy="443.1" r="3.7"/><circle cx="464.9" cy="444.2" r="3.7"/><circle cx="460.6" cy="445.7" r="3.7"/><circle cx="457.6" cy="447.7" r="3.7"/><circle cx="452.7" cy="448.3" r="3.7"/><path d="M539.8 404.9L544.5 412.9L535.1 412.9Z"/><path d="M536 405.8L540.7 413.8L531.3 413.8Z"/><path d="M531.1 408.3L535.8 416.3L526.4 416.3Z"/><path d="M527.3 409.3L532 417.3L522.6 417.3Z"/><path d="M522.9 412L527.6 420L518.2 420Z"/><path d="M518.7 413L523.4 421L514 421Z"/><path d="M514.6 414.4L519.3 422.4L509.9 422.4Z"/><path d="M511.2 417L515.9 425L506.5 425Z"/><path d="M506.3 417.5L511 425.5L501.6 425.5Z"/><path d="M502.7 419.2L507.4 427.2L498 427.2Z"/><path d="M497.4 422L502.1 430L492.7 430Z"/><path d="M493.8 423.5L498.5 431.5L489.1 431.5Z"/><path d="M489.6 425.3L494.3 433.3L484.9 433.3Z"/><path d="M485.6 425.8L490.3 433.8L480.9 433.8Z"/><path d="M480.7 428.2L485.4 436.2L476 436.2Z"/><path d="M477.6 430.5L482.3 438.5L472.9 438.5Z"/><path d="M472.5 431.9L477.2 439.8L467.8 439.8Z"/><path d="M468.9 433.5L473.6 441.5L464.2 441.5Z"/><path d="M464.4 435L469.1 443L459.7 443Z"/><path d="M461 438L465.7 446L456.3 446Z"/><path d="M456.3 439.3L461 447.3L451.6 447.3Z"/><path d="M453.4 442.1L458.1 450.1L448.7 450.1Z"/><path d="M539.5 403.8L543.5 408.4L539.5 413L535.5 408.4Z"/><path d="M536 407L540 411.6L536 416.2L532 411.6Z"/><path d="M530.6 407.3L534.6 411.9L530.6 416.5L526.6 411.9Z"/><path d="M526.7 409.6L530.7 414.2L526.7 418.8L522.7 414.2Z"/><path d="M522 411.8L526 416.4L522 421L518 416.4Z"/><path d="M517.2 412.9L521.2 417.5L517.2 422.1L513.2 417.5Z"/><path d="M512.5 414.8L516.5 419.4L512.5 424L508.5 419.4Z"/><path d="M507.3 417.7L511.3 422.3L507.3 426.9L503.3 422.3Z"/><path d="M503.3 418.6L507.3 423.2L503.3 427.8L499.3 423.2Z"/><path d="M497.7 420.8L501.7 425.4L497.7 430L493.7 425.4Z"/><path d="M493.5 422.6L497.5 427.2L493.5 431.8L489.5 427.2Z"/><path d="M488.3 424.2L492.3 428.8L488.3 433.4L484.3 428.8Z"/><path d="M484.6 427.2L488.6 431.8L484.6 436.4L480.6 431.8Z"/><path d="M478.9 428.6L482.9 433.2L478.9 437.8L474.9 433.2Z"/><path d="M475.4 429.7L479.4 434.3L475.4 438.9L471.4 434.3Z"/><path d="M471 431.9L475 436.5L471 441.1L467 436.5Z"/><path d="M466.1 434.6L470.1 439.2L466.1 443.8L462.1 439.2Z"/><path d="M461.6 436.4L465.6 441L461.6 445.6L457.6 441Z"/><path d="M456.8 439L460.8 443.6L456.8 448.2L452.8 443.6Z"/><path d="M452.3 441.4L456.3 446L452.3 450.6L448.3 446Z"/><circle cx="477.8" cy="434.2" r="3.7"/><circle cx="472.5" cy="436.2" r="3.7"/><circle cx="471.1" cy="435.7" r="3.7"/><circle cx="469" cy="439.3" r="3.7"/><circle cx="464.3" cy="438" r="3.7"/><circle cx="461" cy="439" r="3.7"/><circle cx="456.1" cy="441.8" r="3.7"/><circle cx="452.6" cy="443.1" r="3.7"/><circle cx="451" cy="442.5" r="3.7"/><circle cx="448.2" cy="443.8" r="3.7"/><circle cx="445.2" cy="447.9" r="3.7"/><circle cx="440.7" cy="445.8" r="3.7"/><circle cx="437.2" cy="448.2" r="3.7"/><circle cx="435.7" cy="448" r="3.7"/><path d="M479.6 432.5L484.3 440.5L474.9 440.5Z"/><path d="M475 433.1L479.7 441L470.3 441Z"/><path d="M468.7 435.2L473.4 443.2L464 443.2Z"/><path d="M466.1 436.5L470.8 444.5L461.4 444.5Z"/><path d="M464.1 434.6L468.8 442.6L459.4 442.6Z"/><path d="M459.6 439.6L464.3 447.6L454.9 447.6Z"/><path d="M452.5 438.5L457.2 446.5L447.8 446.5Z"/><path d="M451.6 439L456.3 447L446.9 447Z"/><path d="M448.2 440.8L452.9 448.8L443.5 448.8Z"/><path d="M443.8 441.5L448.5 449.4L439.1 449.4Z"/><path d="M438.4 446L443.1 454L433.7 454Z"/><path d="M433 444.2L437.7 452.2L428.3 452.2Z"/><path d="M478 429.1L482 433.7L478 438.3L474 433.7Z"/><path d="M472 429.9L476 434.5L472 439.1L468 434.5Z"/><path d="M468.6 434.6L472.6 439.2L468.6 443.8L464.6 439.2Z"/><path d="M466.9 435.9L470.9 440.5L466.9 445.1L462.9 440.5Z"/><path d="M460.8 437L464.8 441.6L460.8 446.2L456.8 441.6Z"/><path d="M456.6 437.4L460.6 442L456.6 446.6L452.6 442Z"/><path d="M455 438.1L459 442.7L455 447.3L451 442.7Z"/><path d="M452.1 440.3L456.1 444.9L452.1 449.5L448.1 444.9Z"/><path d="M446.8 443.1L450.8 447.7L446.8 452.3L442.8 447.7Z"/><path d="M440.7 444.8L444.7 449.4L440.7 454L436.7 449.4Z"/><path d="M439 443.3L443 447.9L439 452.5L435 447.9Z"/><path d="M435.6 443.8L439.6 448.4L435.6 453L431.6 448.4Z"/></g><g fill="none" stroke="#0000ff" stroke-width="2.5" stroke-linejoin="round" stroke-linecap="round" clip-path="url(#cd)"><path d="M572 310.2 C571.6 311.5 570.4 315.2 569.5 318 C568.6 320.8 567.8 323.9 566.8 327.2 C565.8 330.5 564.6 334.2 563.5 338 C562.4 341.8 561.2 346.6 560 349.8 C558.8 353 557.7 354.5 556.5 357 C555.3 359.5 553.8 362.3 552.8 365 C551.8 367.7 551.6 369.9 550.2 373.2 C548.8 376.4 546.6 381.5 544.5 384.5 C542.4 387.5 540.6 388.9 537.8 391.3 C535 393.7 530.9 396.6 527.5 399 C524.1 401.4 521.7 403.2 517.7 405.6 C513.7 408 508.3 410.9 503.6 413.4 C498.9 415.8 493.9 418.1 489.4 420.3 C484.9 422.5 481.6 424.8 476.6 426.8 C471.6 428.9 465.2 430.5 459.6 432.6 C454 434.7 447.6 437.3 442.7 439.4 C437.8 441.5 432.5 443.8 430.2 445.1 C427.9 446.4 428.9 446.7 429.1 447.4 C429.3 448.1 430.9 448.8 431.3 449.1"/><path d="M572 310.2 C571.5 312.2 569.9 317.9 569 322 C568.1 326.1 567.3 330.7 566.5 335 C565.7 339.3 564.9 343.8 564 348 C563.1 352.2 562.4 354 561.4 360 C560.4 366 559.3 377.6 558.1 383.8 C556.9 390 555.5 393 554.2 397 C552.9 401 551.7 405 550.2 407.6 C548.7 410.2 546.7 411.5 545 412.8 C543.3 414.1 543 414.1 540 415.6 C537 417.2 530.9 420 527.2 422.1 C523.5 424.2 521.6 425.9 517.7 428 C513.8 430.1 508.3 432.8 503.6 434.8 C498.9 436.8 493.9 438.3 489.4 440.2 C484.9 442.1 480.6 444.5 476.6 446.3 C472.6 448.1 468.3 449.2 465.3 450.8 C462.3 452.4 459.8 454.8 458.5 455.9 C457.2 457 457 457 457.4 457.6 C457.8 458.2 460.2 459.4 460.8 459.8"/></g><path d="M465.3 458.1 C466.4 458.5 469.7 459.6 472 460.5 C474.3 461.4 477.8 462.8 478.9 463.2" fill="none" stroke="#0000ff" stroke-width="2.5" stroke-linecap="round"/><line x1="372" y1="358.1" x2="617.4" y2="299.5" stroke="#000" stroke-width="1.1"/><line x1="372" y1="430.7" x2="535.7" y2="484.3" stroke="#000" stroke-width="1.1"/><rect x="52.7" y="118.9" width="128.5" height="83.8" fill="#fff" stroke="#222" stroke-width="1.1"/><g fill="none" stroke="#ff0000" stroke-width="1.1"><circle cx="78.3" cy="130.6" r="3.7"/><path d="M78.3 145.8L83 153.8L73.6 153.8Z"/><path d="M78.3 165.8L82.3 170.4L78.3 175L74.3 170.4Z"/></g><line x1="60.7" y1="190.2" x2="96" y2="190.2" stroke="#0000ff" stroke-width="2.1"/><g font-family="Liberation Serif, Times New Roman, serif" font-size="15.6"><text x="100.1" y="136">0.2% /h</text><text x="100.1" y="156.2">2% /h</text><text x="100.1" y="176.4">20% /h</text><text x="100.1" y="196.8">Simulations</text></g><rect x="385" y="117" width="127.5" height="84.4" fill="#fff" stroke="#222" stroke-width="1.1"/><g fill="none" stroke="#ff0000" stroke-width="1.1"><circle cx="410.3" cy="128.9" r="3.7"/><path d="M410.3 144.1L415 152.1L405.6 152.1Z"/><path d="M410.3 164.2L414.3 168.8L410.3 173.4L406.3 168.8Z"/></g><line x1="392.6" y1="188.3" x2="428.6" y2="188.3" stroke="#0000ff" stroke-width="2.1"/><g font-family="Liberation Serif, Times New Roman, serif" font-size="15.6"><text x="431.9" y="134.7">0.2 %/h</text><text x="431.9" y="154.8">2 %/h</text><text x="431.9" y="175">20 %/h</text><text x="431.9" y="195.1">Simulations</text></g><rect x="53.7" y="303.9" width="127" height="81.8" fill="#fff" stroke="#222" stroke-width="1.1"/><g fill="none" stroke="#ff0000" stroke-width="1.1"><circle cx="78.6" cy="315.7" r="3.7"/><path d="M78.6 330.8L83.3 338.8L73.9 338.8Z"/><path d="M78.6 350.6L82.6 355.2L78.6 359.8L74.6 355.2Z"/></g><line x1="60.3" y1="373.7" x2="97.2" y2="373.7" stroke="#0000ff" stroke-width="2.1"/><g font-family="Liberation Serif, Times New Roman, serif" font-size="15.6"><text x="101.1" y="320.5">0.2% /h</text><text x="101.1" y="340.6">2% /h</text><text x="101.1" y="360.7">20% /h</text><text x="101.1" y="380.8">Simulations</text></g><rect x="379.4" y="303.7" width="129.1" height="83.8" fill="#fff" stroke="#222" stroke-width="1.1"/><g fill="none" stroke="#ff0000" stroke-width="1.1"><circle cx="405.3" cy="315.8" r="3.7"/><path d="M405.3 331.1L410 339.1L400.6 339.1Z"/><path d="M405.3 351.1L409.3 355.7L405.3 360.3L401.3 355.7Z"/></g><line x1="386.9" y1="375" x2="423.6" y2="375" stroke="#0000ff" stroke-width="2.1"/><g font-family="Liberation Serif, Times New Roman, serif" font-size="15.6"><text x="427.6" y="320.6">0.2 %/h</text><text x="427.6" y="340.9">2 %/h</text><text x="427.6" y="361.2">20 %/h</text><text x="427.6" y="381.5">Simulations</text></g><g font-family="Liberation Serif, Times New Roman, serif" font-size="15.7"><text x="182.5" y="29.1" text-anchor="middle">Wenzhou clay</text><text x="104" y="43.7">(CAUC test, <tspan font-style="italic">&#963;</tspan>'<tspan font-size="11" dy="7.6">v0</tspan><tspan dy="-7.6">=150 kPa)</tspan></text><g font-size="15.3"><text x="191.9" y="322.3">Wenzhou clay</text><text x="187.3" y="339.5">(CAUE test,</text><text x="188" y="353.6"><tspan font-style="italic">&#963;</tspan>'<tspan font-size="11" dy="7.4">v0</tspan><tspan dy="-7.4">=150 kPa)</tspan></text></g></g>
</svg></body></html>
